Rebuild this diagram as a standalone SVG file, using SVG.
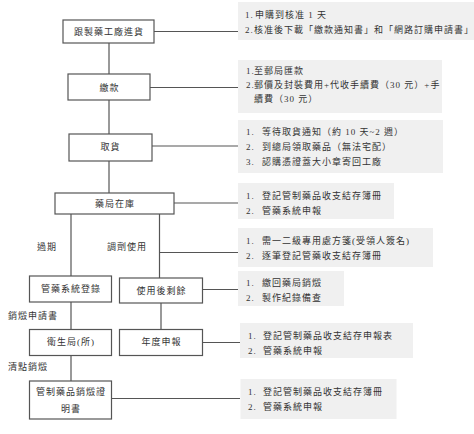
<svg xmlns="http://www.w3.org/2000/svg" width="474" height="434" viewBox="0 0 474 434">
<style>
text{font-family:"Liberation Serif","Noto Sans CJK TC",serif;font-size:9px;fill:#333;letter-spacing:1px;dominant-baseline:central}
.box{fill:#fff;stroke:#555;stroke-width:1.2}
.note{fill:#f0f0f0;stroke:none}
.c{text-anchor:middle}
#connectors line{stroke:#555;stroke-width:1.2}
</style>
<rect width="474" height="434" fill="#fff"/>
<g id="connectors">
<line x1="109" y1="43" x2="109" y2="74"/>
<line x1="109" y1="100" x2="109" y2="134"/>
<line x1="109" y1="161" x2="109" y2="193"/>
<line x1="71" y1="214" x2="71" y2="276"/>
<line x1="159.5" y1="214" x2="159.5" y2="278"/>
<line x1="71" y1="302" x2="71" y2="329"/>
<line x1="161" y1="303" x2="161" y2="329"/>
<line x1="71" y1="355" x2="71" y2="381"/>
<line x1="154" y1="31.5" x2="238" y2="31.5"/>
<line x1="150" y1="87.5" x2="238" y2="87.5"/>
<line x1="152" y1="146" x2="238" y2="146"/>
<line x1="174" y1="203" x2="238" y2="203"/>
<line x1="159.5" y1="252.5" x2="238" y2="252.5"/>
<line x1="202" y1="289.5" x2="238" y2="289.5"/>
<line x1="202" y1="342.5" x2="240" y2="342.5"/>
<line x1="112" y1="398.5" x2="240" y2="398.5"/>
</g>
<g id="labels">
<text x="37" y="247">過期</text>
<text x="107" y="247">調劑使用</text>
<text x="8" y="315.5">銷燬申請書</text>
<text x="8" y="367">清點銷燬</text>
</g>
<g id="n1"><rect class="box" x="63" y="20" width="91" height="23"/><text class="c" x="109" y="32">跟製藥工廠進貨</text></g>
<g id="n2"><rect class="box" x="68" y="74" width="82" height="26"/><text class="c" x="109.5" y="87.5">繳款</text></g>
<g id="n3"><rect class="box" x="69" y="134" width="83" height="27"/><text class="c" x="110.5" y="147">取貨</text></g>
<g id="n4"><rect class="box" x="55" y="193" width="119" height="21"/><text class="c" x="115" y="203.5">藥局在庫</text></g>
<g id="n5"><rect class="box" x="29.5" y="276" width="82" height="26"/><text class="c" x="71" y="289">管藥系統登錄</text></g>
<g id="n6"><rect class="box" x="119.5" y="278" width="83" height="25"/><text class="c" x="161.5" y="290.5">使用後剩餘</text></g>
<g id="n7"><rect class="box" x="29.5" y="329.5" width="82" height="26"/><text class="c" x="71" y="342">衛生局(所)</text></g>
<g id="n8"><rect class="box" x="119.5" y="329.5" width="83" height="26"/><text class="c" x="161.5" y="342">年度申報</text></g>
<g id="n9"><rect class="box" x="29.5" y="381" width="82" height="38"/><text class="c" x="71" y="392">管制藥品銷燬證</text><text class="c" x="71" y="409">明書</text></g>
<g id="note1"><rect class="note" x="238" y="2" width="236" height="38"/><text x="245" y="15">1.</text><text x="255" y="15">申購到核准 1 天</text><text x="245" y="30">2.</text><text x="254" y="30">核准後下載「繳款通知書」和「網路訂購申請書」</text></g>
<g id="note2"><rect class="note" x="238" y="60" width="204" height="53"/><text x="246" y="71">1.</text><text x="254" y="71">至郵局匯款</text><text x="246" y="85">2.</text><text x="254" y="85">郵價及封裝費用+代收手續費（30 元）+手</text><text x="254" y="99">續費（30 元）</text></g>
<g id="note3"><rect class="note" x="238" y="120" width="205" height="53"/><text x="246" y="132">1.</text><text x="262" y="132">等待取貨通知（約 10 天~2 週）</text><text x="246" y="147">2.</text><text x="262" y="147">到總局領取藥品（無法宅配）</text><text x="246" y="162">3.</text><text x="262" y="162">認購憑證蓋大小章寄回工廠</text></g>
<g id="note4"><rect class="note" x="238" y="183" width="156" height="36"/><text x="246" y="196">1.</text><text x="262" y="196">登記管制藥品收支結存簿冊</text><text x="246" y="211">2.</text><text x="262" y="211">管藥系統申報</text></g>
<g id="note5"><rect class="note" x="238" y="228" width="195" height="39"/><text x="246" y="241">1.</text><text x="262" y="241">需一二級專用處方箋(受領人簽名)</text><text x="246" y="256">2.</text><text x="262" y="256">逐筆登記管藥收支結存簿冊</text></g>
<g id="note6"><rect class="note" x="238" y="271" width="106" height="35"/><text x="246" y="282.5">1.</text><text x="262" y="282.5">繳回藥局銷燬</text><text x="246" y="297.5">2.</text><text x="262" y="297.5">製作紀錄備查</text></g>
<g id="note7"><rect class="note" x="240" y="323" width="173" height="35"/><text x="248" y="336">1.</text><text x="263" y="336">登記管制藥品收支結存申報表</text><text x="248" y="351">2.</text><text x="263" y="351">管藥系統申報</text></g>
<g id="note8"><rect class="note" x="240.5" y="379" width="156" height="40"/><text x="248" y="392">1.</text><text x="263" y="392">登記管制藥品收支結存簿冊</text><text x="248" y="407">2.</text><text x="263" y="407">管藥系統申報</text></g>
</svg>
